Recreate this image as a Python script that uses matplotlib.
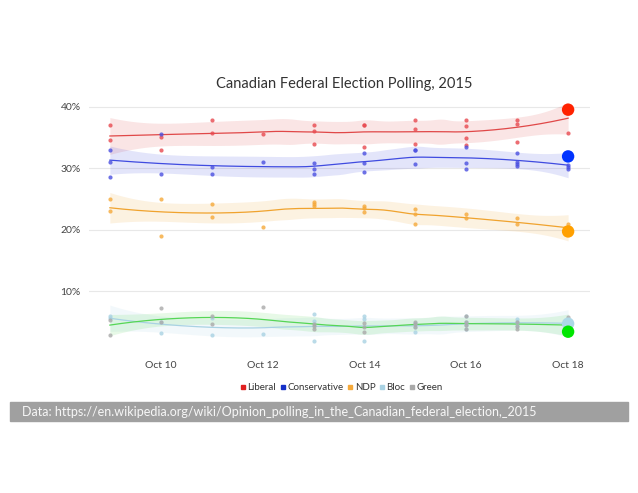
import numpy as np
import matplotlib
matplotlib.use("Agg")
import matplotlib.pyplot as plt
from matplotlib.lines import Line2D
from matplotlib.patches import Rectangle

plt.rcParams['font.family'] = ['Lato', 'DejaVu Sans']

# poll values per party, grouped by day of October 2015
days = [9, 10, 11, 12, 13, 14, 15, 16, 17, 18]
liberal = [[37.0, 34.5], [35.0, 33.0], [37.9, 35.7], [35.6], [37.0, 36.1, 34.0],
           [37.0, 37.0, 33.5], [37.9, 36.4, 33.9], [37.9, 36.9, 34.9, 33.8],
           [37.9, 37.2, 34.2], [39.1, 39.8, 35.7]]
conservative = [[33.0, 31.0, 28.5], [35.5, 29.0], [30.2, 29.0], [31.0], [30.9, 29.8, 29.1],
                [32.5, 30.9, 29.3], [32.9, 32.9, 30.6], [33.4, 30.9, 29.9],
                [32.5, 31.0, 30.6, 30.3], [31.9, 30.5, 30.1, 29.8]]
ndp = [[25.0, 23.0], [25.0, 19.0], [24.2, 22.0], [20.5], [24.5, 24.1, 23.8],
       [23.9, 23.5, 22.8], [23.4, 22.6, 20.9], [22.5, 21.9], [21.9, 20.9], [20.9, 19.7, 20.0]]
bloc = [[6.0, 5.7], [5.0, 3.2], [5.7, 2.9], [3.1], [6.3, 5.1, 1.9],
        [5.9, 5.4, 1.9], [4.75, 4.2, 3.4], [5.0, 4.5, 3.9, 5.9], [5.4, 4.9, 4.4], [4.6, 4.8]]
green = [[5.3, 2.9], [7.3, 5.0], [6.0, 4.7], [7.4], [4.7, 4.3, 3.8],
         [4.85, 4.2, 3.4], [5.0, 4.6, 4.1], [5.0, 4.5, 3.9, 5.9], [4.9, 4.4, 3.9], [5.8, 3.4]]

# election result (shown on Oct 18)
results = [39.5, 31.9, 19.7, 4.7, 3.4]

parties = ["Liberal", "Conservative", "NDP", "Bloc", "Green"]
polls = [liberal, conservative, ndp, bloc, green]
point_colors = ["#e8494f", "#4a4fe0", "#f5a93a", "#a9d2e3", "#a9a9a9"]
line_colors = ["#e04848", "#3f4be0", "#f0a32e", "#a9d2e3", "#55d655"]
result_colors = ["#ff2200", "#0033ff", "#ffa000", "#add8e6", "#00e600"]
legend_colors = ["#e02020", "#1530c8", "#f5a93a", "#a9d2e3", "#a9a9a9"]


def loess(x, y, grid, span=0.75):
    # local quadratic fit with tricube weights, plus rough standard error
    n = len(x)
    q = int(np.floor(n * span))

    def smoother_row(x0):
        d = np.abs(x - x0)
        h = np.sort(d)[q - 1] * 1.0001
        w = np.clip(1 - (d / h) ** 3, 0, None) ** 3
        X = np.column_stack([np.ones(n), x - x0, (x - x0) ** 2])
        XtW = X.T * w
        return np.linalg.pinv(XtW @ X)[0] @ XtW

    L = np.array([smoother_row(xi) for xi in x])
    resid = y - L @ y
    sigma = np.sqrt(np.sum(resid ** 2) / (n - np.trace(L)))
    rows = np.array([smoother_row(g) for g in grid])
    fit = rows @ y
    se = sigma * np.sqrt(np.sum(rows ** 2, axis=1))
    return fit, se


fig = plt.figure(figsize=(6.38, 4.93), dpi=100)
ax = fig.add_axes([89 / 638, (493 - 352.6) / 493, 501 / 638, 258.3 / 493])

grid = np.linspace(days[0], days[-1], 200)
for party, values, pc, lc in zip(parties, polls, point_colors, line_colors):
    xs = np.array([d for d, vals in zip(days, values) for _ in vals], dtype=float)
    ys = np.array([v for vals in values for v in vals])
    fit, se = loess(xs, ys, grid)
    ax.fill_between(grid, fit - 2.7 * se, fit + 2.7 * se, color=lc, alpha=0.14, lw=0)
    ax.plot(grid, fit, color=lc, lw=0.9)
    ax.scatter(xs, ys, s=9, color=pc, alpha=0.8, lw=0, zorder=3)

ax.scatter([days[-1]] * len(results), results, s=80, color=result_colors, lw=0, zorder=4)

ax.set_xlim(8.59, 18.43)
ax.set_ylim(0, 42)
ax.set_xticks([10, 12, 14, 16, 18])
ax.set_xticklabels(["Oct 10", "Oct 12", "Oct 14", "Oct 16", "Oct 18"])
ax.set_yticks([10, 20, 30, 40])
ax.set_yticklabels(["10%", "20%", "30%", "40%"])
ax.tick_params(length=0, labelsize=7.5, colors="#444444", pad=6)
ax.grid(axis="y", color="#e8e8e8", lw=0.8)
ax.set_axisbelow(True)
for s in ax.spines.values():
    s.set_visible(False)

fig.text(344 / 638, 1 - 84 / 493, "Canadian Federal Election Polling, 2015",
         ha="center", va="center", fontsize=10.5, color="#333333")

handles = [Line2D([], [], marker="s", ls="", ms=2.5, color=c) for c in legend_colors]
fig.legend(handles, parties, loc="center", bbox_to_anchor=(341 / 638, 1 - 388 / 493),
           ncol=5, frameon=False, fontsize=7, handletextpad=0.05, columnspacing=0.3,
           handlelength=0.8, labelcolor="#333333")

fig.patches.append(Rectangle((10 / 638, 1 - 421 / 493), 618 / 638, 19 / 493,
                             transform=fig.transFigure, color="#a0a0a0", zorder=0))
fig.text(22 / 638, 1 - 412 / 493,
         "Data: https://en.wikipedia.org/wiki/Opinion_polling_in_the_Canadian_federal_election,_2015",
         ha="left", va="center", fontsize=9, color="#f7f7f7")

fig.savefig("out.png", dpi=100)
